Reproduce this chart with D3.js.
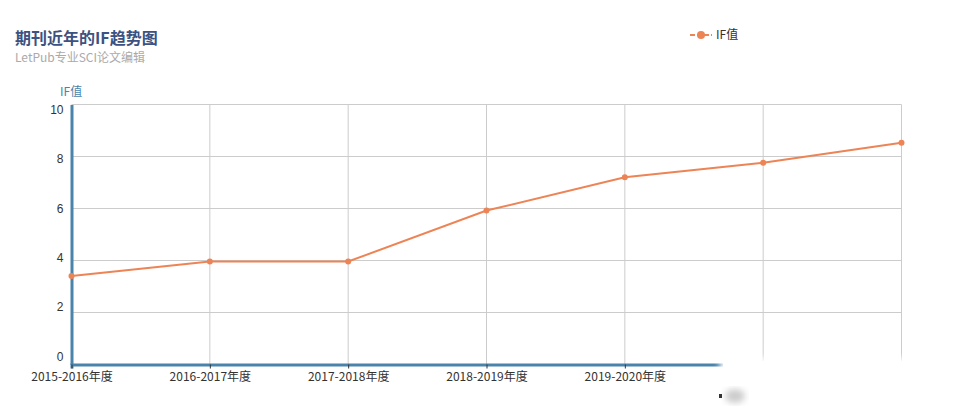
<!DOCTYPE html>
<html>
<head>
<meta charset="utf-8">
<script src="https://cdn.jsdelivr.net/npm/d3@7"></script>
<style>
  body { margin: 0; background: #fff; }
  text { font-family: "Microsoft YaHei", "Noto Sans CJK SC", "Liberation Sans", sans-serif; }
</style>
</head>
<body>
<script>
// chart data
var years = ["2015-2016年度", "2016-2017年度", "2017-2018年度", "2018-2019年度",
             "2019-2020年度", "2020-2021年度", "2021-2022年度"];
var ifValues = [3.4, 3.96, 3.96, 5.92, 7.2, 7.76, 8.53];
var yTicks = [0, 2, 4, 6, 8, 10];

var width = 955,
    height = 418;

var lineColor = "#ed8456",
    axisColor = "#4a84ab";

var svg = d3.select("body").append("svg")
    .attr("width", width)
    .attr("height", height);

var x = d3.scalePoint()
    .domain(years)
    .range([71.5, 901.5]);

var y = d3.scaleLinear()
    .domain([0, 10])
    .range([364.5, 104.5]);

// tick labels in the source sit a little inside the plot band
var yLabel = d3.scaleLinear()
    .domain([0, 10])
    .range([357, 110]);

// title
svg.append("text")
    .attr("x", 15).attr("y", 44)
    .attr("fill", "#3b5282")
    .attr("font-size", 16)
    .attr("font-weight", "bold")
    .text("期刊近年的IF趋势图");

svg.append("text")
    .attr("x", 15).attr("y", 62)
    .attr("fill", "#aaa")
    .attr("font-size", 12)
    .text("LetPub专业SCI论文编辑");

// legend
var legend = svg.append("g").attr("transform", "translate(690,35)");
legend.append("line")
    .attr("x1", 0).attr("x2", 22)
    .attr("stroke", lineColor)
    .attr("stroke-width", 2)
    .attr("stroke-dasharray", "5,2");
legend.append("circle")
    .attr("cx", 11).attr("r", 4)
    .attr("fill", lineColor);
legend.append("text")
    .attr("x", 26).attr("y", 4)
    .attr("fill", "#333")
    .attr("font-size", 12)
    .text("IF值");

// grid
var grid = svg.append("g");
grid.selectAll("line.h")
    .data(yTicks.slice(1))
    .enter().append("line")
    .attr("class", "h")
    .attr("x1", x.range()[0]).attr("x2", x.range()[1])
    .attr("y1", function(d){ return y(d); })
    .attr("y2", function(d){ return y(d); })
    .attr("stroke", "#ccc");
grid.selectAll("line.v")
    .data(years.slice(1))
    .enter().append("line")
    .attr("class", "v")
    .attr("x1", function(d){ return x(d); })
    .attr("x2", function(d){ return x(d); })
    .attr("y1", y(10)).attr("y2", y(0))
    .attr("stroke", "#ccc");

// y axis
var yAxis = svg.append("g")
    .attr("transform", "translate(" + x.range()[0] + ",0)")
    .call(d3.axisLeft(y).tickValues(yTicks).tickSize(0).tickPadding(8));
yAxis.select(".domain").attr("stroke", axisColor).attr("stroke-width", 3);
yAxis.selectAll(".tick")
    .attr("transform", function(d){ return "translate(0," + yLabel(d) + ")"; });
yAxis.selectAll("text").attr("fill", "#333").attr("font-size", 12)
    .style("font-family", "Liberation Sans, sans-serif");

svg.append("text")
    .attr("x", 60).attr("y", 96)
    .attr("fill", axisColor)
    .attr("font-size", 12)
    .text("IF值");

// x axis
var xAxis = svg.append("g")
    .attr("transform", "translate(0," + y(0) + ")")
    .call(d3.axisBottom(x).tickSize(4).tickPadding(4));
xAxis.select(".domain").attr("stroke", axisColor).attr("stroke-width", 3);
xAxis.selectAll(".tick line").attr("stroke", "#333");
xAxis.selectAll("text").attr("fill", "#333").attr("font-size", 12);

// series
var line = d3.line()
    .x(function(d, i){ return x(years[i]); })
    .y(function(d){ return y(d); });

svg.append("path")
    .datum(ifValues)
    .attr("d", line)
    .attr("fill", "none")
    .attr("stroke", lineColor)
    .attr("stroke-width", 2);

svg.selectAll("circle.pt")
    .data(ifValues)
    .enter().append("circle")
    .attr("class", "pt")
    .attr("cx", function(d, i){ return x(years[i]); })
    .attr("cy", function(d){ return y(d); })
    .attr("r", 3)
    .attr("fill", lineColor);

// the bottom-right corner of the source image is covered by a blurred overlay
var defs = svg.append("defs");
defs.append("filter").attr("id", "blur")
    .attr("x", "-20%").attr("y", "-20%").attr("width", "140%").attr("height", "140%")
  .append("feGaussianBlur").attr("stdDeviation", 3);

svg.append("rect")
    .attr("x", 720).attr("y", 358)
    .attr("width", 250).attr("height", 80)
    .attr("fill", "#fff")
    .attr("filter", "url(#blur)");
svg.append("rect")
    .attr("x", 723).attr("y", 361)
    .attr("width", 240).attr("height", 70)
    .attr("fill", "#fff");

svg.append("ellipse")
    .attr("cx", 735).attr("cy", 396)
    .attr("rx", 10).attr("ry", 7)
    .attr("fill", "#ccc")
    .attr("filter", "url(#blur)");
svg.append("rect")
    .attr("x", 719).attr("y", 394)
    .attr("width", 3).attr("height", 4)
    .attr("fill", "#333");
</script>
</body>
</html>
